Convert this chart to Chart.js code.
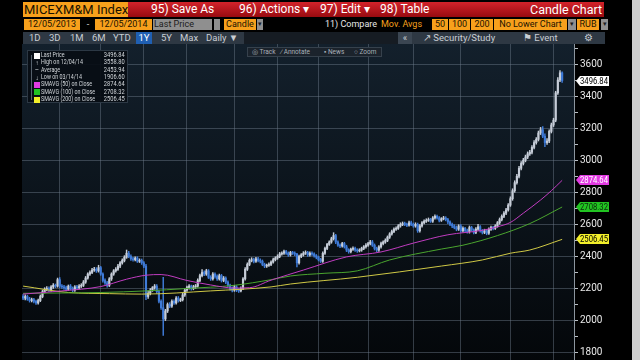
<!DOCTYPE html>
<html>
<head>
<meta charset="utf-8">
<script src="https://cdn.jsdelivr.net/npm/chart.js@4.4.1/dist/chart.umd.min.js"></script>
<style>
  html, body { margin: 0; padding: 0; background: #000; }
  body { width: 640px; height: 360px; position: relative; overflow: hidden;
         font-family: "Liberation Sans Narrow", "Roboto", sans-serif; }
  .abs { position: absolute; white-space: nowrap; box-sizing: border-box; }
  .org { background: #f7a01c; color: #1a1200; }
  .gry { background: #8f8f8f; color: #1c1c1c; }
  .r1 { top: 2px; height: 15px; line-height: 15px; }
  .r2 { top: 19px; height: 11px; line-height: 11px; font-size: 9px; text-align: center; }
  .r3 { top: 32px; height: 12px; line-height: 12px; font-size: 9.5px; color: #c9ced4; }
  .rt { color: #fff; font-size: 12px; }
  #legend { left: 27px; top: 50px; width: 101px; height: 53px; background: rgba(8,13,19,0.92);
            border: 1px solid #2c3844; font-size: 6.5px; color: #d2d6da; }
  .lr { position: absolute; left: 0; width: 99px; height: 7px; line-height: 7px; }
  .ic { position: absolute; left: 6px; top: 0.5px; width: 6px; height: 6px; text-align: center; }
  .lt { position: absolute; left: 13px; transform: scaleX(0.82); transform-origin: left center; }
  .lv { position: absolute; right: 2px; transform: scaleX(0.88); transform-origin: right center; }
  #tools { left: 247px; top: 47px; width: 135px; height: 10px; line-height: 9px; background: #1b232c;
           border: 1px solid #36414c; font-size: 6.5px; color: #a9b1b9; }
  #wrap { position: absolute; left: 22px; top: 44px; width: 610px; height: 316px; }
</style>
</head>
<body>
<!-- row 1 -->
<div class="abs r1 org" style="left:23px;width:105px;font-size:13px;padding-left:1px;">MICEXM&amp;M Index</div>
<div class="abs r1" style="left:128px;width:476px;background:linear-gradient(#d3232b,#980b10);"></div>
<div class="abs r1 rt" style="left:151px;">95) Save As</div>
<div class="abs r1 rt" style="left:239px;">96) Actions ▾</div>
<div class="abs r1 rt" style="left:320px;">97) Edit ▾</div>
<div class="abs r1 rt" style="left:380px;">98) Table</div>
<div class="abs r1 rt" style="left:530px;font-size:12.5px;">Candle Chart</div>
<div class="abs" style="left:632px;top:0;width:8px;height:360px;background:#cfcfcf;"></div>

<!-- row 2 -->
<div class="abs r2 org" style="left:24px;width:56px;">12/05/2013</div>
<div class="abs r2" style="left:83px;width:10px;color:#ddd;">-</div>
<div class="abs r2 org" style="left:95px;width:57px;">12/05/2014</div>
<div class="abs r2 gry" style="left:153px;width:59px;text-align:left;padding-left:1px;">Last Price</div>
<div class="abs r2 gry" style="left:214px;width:6px;"></div>
<div class="abs r2 org" style="left:224px;width:32px;">Candle</div>
<div class="abs r2 gry" style="left:257px;width:6px;font-size:7px;">▾</div>
<div class="abs r2" style="left:325px;color:#e8e8e8;text-align:left;">11) Compare</div>
<div class="abs r2" style="left:381px;color:#f7a01c;text-align:left;">Mov. Avgs</div>
<div class="abs r2 org" style="left:432px;width:16px;">50</div>
<div class="abs r2 org" style="left:449px;width:21px;">100</div>
<div class="abs r2 org" style="left:471px;width:22px;">200</div>
<div class="abs r2 org" style="left:494px;width:73px;">No Lower Chart</div>
<div class="abs r2 gry" style="left:568px;width:8px;font-size:7px;">▾</div>
<div class="abs r2 org" style="left:577px;width:22px;">RUB</div>
<div class="abs r2 gry" style="left:601px;width:7px;font-size:7px;">▾</div>

<!-- row 3 -->
<div class="abs r3" style="left:23px;width:221px;background:#2e3843;"></div>
<div class="abs r3" style="left:244px;width:154px;background:#161c23;"></div>
<div class="abs r3" style="left:398px;width:14px;background:#3b4652;text-align:center;">«</div>
<div class="abs r3" style="left:412px;width:193px;background:#2e3843;"></div>
<div class="abs r3" style="left:29px;">1D</div>
<div class="abs r3" style="left:49px;">3D</div>
<div class="abs r3" style="left:70px;">1M</div>
<div class="abs r3" style="left:92px;">6M</div>
<div class="abs r3" style="left:113px;">YTD</div>
<div class="abs r3" style="left:136px;width:16px;background:#1f5fb2;color:#fff;text-align:center;">1Y</div>
<div class="abs r3" style="left:161px;">5Y</div>
<div class="abs r3" style="left:180px;">Max</div>
<div class="abs r3" style="left:206px;">Daily ▼</div>
<div class="abs r3" style="left:423px;">↗ Security/Study</div>
<div class="abs r3" style="left:523px;">⚑ Event</div>
<div class="abs r3" style="left:584px;">⚙</div>

<div id="wrap"><canvas id="myChart"></canvas></div>

<div id="legend" class="abs">
  <div style="position:absolute;left:3px;top:4px;width:1px;height:45px;background:#55606b;"></div>
  <div class="lr" style="top:1px;"><span class="ic" style="background:#fff;"></span><span class="lt">Last Price</span><span class="lv">3496.84</span></div>
  <div class="lr" style="top:8px;"><span class="ic">↑</span><span class="lt">High on 12/04/14</span><span class="lv">3558.80</span></div>
  <div class="lr" style="top:15.5px;"><span class="ic">–</span><span class="lt">Average</span><span class="lv">2453.94</span></div>
  <div class="lr" style="top:23px;"><span class="ic">↓</span><span class="lt">Low on 03/14/14</span><span class="lv">1906.60</span></div>
  <div class="lr" style="top:30px;"><span class="ic" style="background:#e23be2;"></span><span class="lt">SMAVG (50) on Close</span><span class="lv">2874.64</span></div>
  <div class="lr" style="top:37.5px;"><span class="ic" style="background:#22c422;"></span><span class="lt">SMAVG (100) on Close</span><span class="lv">2708.32</span></div>
  <div class="lr" style="top:45px;"><span class="ic" style="background:#f2ee2a;"></span><span class="lt">SMAVG (200) on Close</span><span class="lv">2506.45</span></div>
</div>

<div id="tools" class="abs">
  <span style="position:absolute;left:4px;">◎ Track</span>
  <span style="position:absolute;left:33px;">∕ Annotate</span>
  <span style="position:absolute;left:76px;">▪ News</span>
  <span style="position:absolute;left:106px;">○ Zoom</span>
</div>

<script>
// daily candles, 12/05/2013 - 12/05/2014
const opens = [
  2150, 2140, 2150, 2135, 2125, 2130, 2120, 2110, 2125, 2150,
  2180, 2195, 2200, 2190, 2210, 2220, 2215, 2255, 2215, 2210,
  2205, 2195, 2215, 2200, 2190, 2210, 2205, 2215, 2220, 2240,
  2265, 2290, 2300, 2315, 2320, 2310, 2330, 2290, 2250, 2235,
  2220, 2260, 2290, 2310, 2320, 2340, 2360, 2375, 2395, 2420,
  2400, 2385, 2380, 2390, 2370, 2375, 2360, 2340, 2150, 2170,
  2190, 2205, 2215, 2180, 2120, 2080, 2010, 2060, 2100, 2090,
  2120, 2110, 2140, 2125, 2130, 2160, 2190, 2205, 2215, 2200,
  2210, 2215, 2250, 2280, 2300, 2290, 2310, 2270, 2260, 2290,
  2275, 2260, 2280, 2250, 2265, 2240, 2220, 2200, 2190, 2210,
  2190, 2185, 2200, 2260, 2320, 2350, 2375, 2380, 2370, 2385,
  2375, 2370, 2350, 2340, 2345, 2350, 2365, 2380, 2390, 2400,
  2415, 2420, 2430, 2420, 2410, 2425, 2420, 2415, 2360, 2400,
  2410, 2420, 2425, 2410, 2420, 2415, 2405, 2395, 2380, 2370,
  2420, 2450, 2475, 2490, 2510, 2530, 2490, 2470, 2465, 2480,
  2460, 2440, 2430, 2445, 2450, 2440, 2435, 2440, 2450, 2460,
  2470, 2480, 2490, 2470, 2450, 2440, 2460, 2480, 2490, 2500,
  2520, 2540, 2555, 2570, 2575, 2590, 2600, 2605, 2600, 2595,
  2610, 2600, 2590, 2600, 2560, 2590, 2610, 2620, 2625, 2630,
  2620, 2640, 2650, 2640, 2625, 2635, 2640, 2630, 2615, 2600,
  2590, 2580, 2570, 2590, 2560, 2575, 2560, 2555, 2580, 2565,
  2550, 2570, 2585, 2560, 2550, 2560, 2545, 2570, 2580, 2575,
  2590, 2610, 2630, 2650, 2670, 2690, 2720, 2760, 2810, 2860,
  2900, 2950, 2980, 3000, 3020, 3040, 3050, 3080, 3110, 3130,
  3170, 3190, 3150, 3110, 3120, 3180, 3220, 3250, 3420, 3500, 3545
];
const highs = [
  2162, 2160, 2158, 2145, 2140, 2138, 2128, 2134, 2160, 2190,
  2205, 2212, 2210, 2218, 2230, 2228, 2265, 2268, 2225, 2220,
  2215, 2222, 2225, 2210, 2218, 2220, 2225, 2230, 2250, 2275,
  2298, 2310, 2325, 2332, 2330, 2345, 2338, 2298, 2260, 2244,
  2268, 2298, 2318, 2330, 2350, 2368, 2385, 2405, 2440, 2432,
  2410, 2395, 2398, 2398, 2385, 2384, 2368, 2350, 2185, 2200,
  2212, 2225, 2225, 2190, 2130, 2270, 2070, 2110, 2112, 2130,
  2130, 2150, 2150, 2140, 2170, 2200, 2215, 2225, 2222, 2220,
  2225, 2260, 2290, 2318, 2310, 2320, 2318, 2280, 2300, 2298,
  2285, 2290, 2288, 2275, 2272, 2248, 2228, 2210, 2220, 2218,
  2200, 2210, 2268, 2330, 2360, 2385, 2392, 2390, 2395, 2394,
  2385, 2378, 2358, 2352, 2360, 2372, 2390, 2398, 2410, 2425,
  2428, 2440, 2438, 2428, 2432, 2432, 2428, 2420, 2408, 2418,
  2430, 2435, 2432, 2428, 2428, 2422, 2412, 2402, 2388, 2428,
  2458, 2482, 2498, 2520, 2548, 2538, 2498, 2478, 2488, 2488,
  2470, 2448, 2452, 2460, 2458, 2448, 2448, 2458, 2468, 2480,
  2488, 2500, 2500, 2478, 2458, 2468, 2490, 2498, 2510, 2528,
  2548, 2565, 2578, 2585, 2598, 2610, 2615, 2614, 2608, 2620,
  2620, 2608, 2610, 2608, 2598, 2618, 2628, 2635, 2640, 2638,
  2648, 2660, 2658, 2648, 2642, 2650, 2648, 2638, 2622, 2608,
  2598, 2590, 2598, 2598, 2585, 2582, 2570, 2590, 2588, 2572,
  2580, 2600, 2592, 2568, 2570, 2568, 2578, 2590, 2588, 2598,
  2618, 2640, 2660, 2680, 2700, 2730, 2772, 2822, 2872, 2912,
  2962, 2992, 3012, 3032, 3052, 3062, 3092, 3122, 3142, 3182,
  3205, 3210, 3165, 3135, 3190, 3232, 3262, 3430, 3515, 3558.8, 3552
];
const lows = [
  2130, 2128, 2126, 2115, 2116, 2110, 2100, 2102, 2118, 2142,
  2172, 2186, 2180, 2182, 2200, 2205, 2208, 2205, 2200, 2195,
  2185, 2188, 2192, 2180, 2182, 2196, 2198, 2206, 2212, 2232,
  2258, 2282, 2292, 2306, 2300, 2302, 2282, 2240, 2225, 2208,
  2212, 2250, 2282, 2302, 2312, 2330, 2352, 2366, 2388, 2392,
  2375, 2370, 2372, 2362, 2362, 2350, 2330, 2130, 2138, 2160,
  2182, 2195, 2170, 2110, 2070, 1906.6, 2000, 2050, 2080, 2082,
  2100, 2102, 2115, 2118, 2122, 2150, 2182, 2196, 2190, 2192,
  2200, 2208, 2242, 2272, 2280, 2282, 2262, 2250, 2252, 2265,
  2250, 2252, 2240, 2242, 2230, 2210, 2190, 2178, 2182, 2180,
  2175, 2178, 2192, 2252, 2312, 2342, 2366, 2360, 2362, 2365,
  2360, 2342, 2330, 2332, 2338, 2342, 2358, 2372, 2382, 2392,
  2408, 2412, 2412, 2400, 2402, 2412, 2405, 2335, 2352, 2392,
  2402, 2412, 2400, 2402, 2406, 2396, 2385, 2372, 2362, 2362,
  2412, 2442, 2468, 2482, 2502, 2480, 2462, 2455, 2458, 2452,
  2430, 2420, 2422, 2438, 2432, 2425, 2428, 2432, 2442, 2452,
  2462, 2472, 2462, 2440, 2430, 2432, 2452, 2472, 2482, 2492,
  2512, 2532, 2548, 2562, 2568, 2582, 2592, 2592, 2585, 2588,
  2592, 2582, 2582, 2550, 2552, 2582, 2602, 2612, 2618, 2612,
  2612, 2632, 2632, 2615, 2618, 2628, 2622, 2605, 2592, 2580,
  2572, 2560, 2562, 2550, 2552, 2550, 2545, 2545, 2558, 2540,
  2542, 2562, 2552, 2540, 2542, 2535, 2538, 2562, 2566, 2568,
  2582, 2600, 2622, 2642, 2660, 2682, 2712, 2750, 2800, 2850,
  2890, 2940, 2970, 2990, 3010, 3030, 3040, 3070, 3100, 3120,
  3160, 3140, 3085, 3098, 3110, 3170, 3210, 3240, 3410, 3490, 3485
];
const closes = [
  2140, 2150, 2135, 2125, 2130, 2120, 2110, 2125, 2150, 2180,
  2195, 2200, 2190, 2210, 2220, 2215, 2255, 2215, 2210, 2205,
  2195, 2215, 2200, 2190, 2210, 2205, 2215, 2220, 2240, 2265,
  2290, 2300, 2315, 2320, 2310, 2330, 2290, 2250, 2235, 2220,
  2260, 2290, 2310, 2320, 2340, 2360, 2375, 2395, 2420, 2400,
  2385, 2380, 2390, 2370, 2375, 2360, 2340, 2150, 2170, 2190,
  2205, 2215, 2180, 2120, 2080, 2010, 2060, 2100, 2090, 2120,
  2110, 2140, 2125, 2130, 2160, 2190, 2205, 2215, 2200, 2210,
  2215, 2250, 2280, 2300, 2290, 2310, 2270, 2260, 2290, 2275,
  2260, 2280, 2250, 2265, 2240, 2220, 2200, 2190, 2210, 2190,
  2185, 2200, 2260, 2320, 2350, 2375, 2380, 2370, 2385, 2375,
  2370, 2350, 2340, 2345, 2350, 2365, 2380, 2390, 2400, 2415,
  2420, 2430, 2420, 2410, 2425, 2420, 2415, 2360, 2400, 2410,
  2420, 2425, 2410, 2420, 2415, 2405, 2395, 2380, 2370, 2420,
  2450, 2475, 2490, 2510, 2530, 2490, 2470, 2465, 2480, 2460,
  2440, 2430, 2445, 2450, 2440, 2435, 2440, 2450, 2460, 2470,
  2480, 2490, 2470, 2450, 2440, 2460, 2480, 2490, 2500, 2520,
  2540, 2555, 2570, 2575, 2590, 2600, 2605, 2600, 2595, 2610,
  2600, 2590, 2600, 2560, 2590, 2610, 2620, 2625, 2630, 2620,
  2640, 2650, 2640, 2625, 2635, 2640, 2630, 2615, 2600, 2590,
  2580, 2570, 2590, 2560, 2575, 2560, 2555, 2580, 2565, 2550,
  2570, 2585, 2560, 2550, 2560, 2545, 2570, 2580, 2575, 2590,
  2610, 2630, 2650, 2670, 2690, 2720, 2760, 2810, 2860, 2900,
  2950, 2980, 3000, 3020, 3040, 3050, 3080, 3110, 3130, 3170,
  3190, 3150, 3110, 3120, 3180, 3220, 3250, 3420, 3500, 3545, 3496.84
];

// moving averages read at a few trading days (index into the candles)
const sma50Days = [0, 18, 36, 48, 57, 64, 76, 87, 98, 105, 115, 130, 150, 166, 181, 197, 213, 220, 226, 232, 240, 245, 250];
const sma50 = [2165, 2185, 2212, 2258, 2283, 2287, 2250, 2222, 2203, 2205, 2252, 2315, 2397, 2428, 2483, 2535, 2563, 2585, 2612, 2670, 2752, 2810, 2874.64];
const sma100Days = [0, 18, 36, 57, 76, 98, 115, 124, 140, 155, 170, 194, 204, 220, 235, 250];
const sma100 = [2170, 2172, 2175, 2185, 2200, 2220, 2255, 2278, 2295, 2310, 2378, 2446, 2470, 2530, 2605, 2708.32];
const sma200Days = [0, 21, 40, 55, 87, 115, 124, 155, 194, 213, 226, 235, 250];
const sma200 = [2215, 2175, 2168, 2165, 2185, 2210, 2228, 2270, 2340, 2378, 2420, 2440, 2506.45];

// first trading day of each month (Jan..Dec 2014)
const monthStarts = [17, 36, 56, 76, 98, 118, 137, 160, 181, 203, 226, 246];

const slots = 256;
const labels = Array.from({length: slots}, (_, i) => String(i));

const UP = '#c6cdd8';
const DOWN = '#3f7bd8';
const GRID = 'rgba(110,125,140,0.45)';
const FONT = '"Liberation Sans Narrow", "Roboto", sans-serif';

function sparse(days, vals) {
    const arr = new Array(slots).fill(null);
    days.forEach((d, i) => { arr[d] = vals[i]; });
    return arr;
}

const candleColors = closes.map((c, i) => c >= opens[i] ? UP : DOWN);

const bgPlugin = {
    id: 'bg',
    beforeDraw(chart) {
        const {ctx, chartArea: a} = chart;
        ctx.save();
        const g = ctx.createLinearGradient(0, a.top, 0, a.bottom);
        g.addColorStop(0, '#13202c');
        g.addColorStop(1, '#04070a');
        ctx.fillStyle = g;
        ctx.fillRect(a.left, a.top, a.right - a.left, a.bottom - a.top);
        ctx.restore();
    }
};

const tagPlugin = {
    id: 'tags',
    afterDraw(chart) {
        const {ctx, chartArea, scales} = chart;
        const tags = [
            {v: closes[closes.length - 1], bg: '#ffffff', fg: '#000000'},
            {v: sma50[sma50.length - 1], bg: '#e23be2', fg: '#ffffff'},
            {v: sma100[sma100.length - 1], bg: '#22c422', fg: '#0b2a0b'},
            {v: sma200[sma200.length - 1], bg: '#f2ee2a', fg: '#000000'}
        ];
        ctx.save();
        ctx.font = '9.5px ' + FONT;
        ctx.textBaseline = 'middle';
        tags.forEach(t => {
            const y = Math.round(scales.y.getPixelForValue(t.v));
            const x0 = chartArea.right + 2;
            const w = 33, h = 10;
            ctx.fillStyle = t.bg;
            ctx.beginPath();
            ctx.moveTo(x0, y);
            ctx.lineTo(x0 + 4, y - h / 2);
            ctx.lineTo(x0 + w, y - h / 2);
            ctx.lineTo(x0 + w, y + h / 2);
            ctx.lineTo(x0 + 4, y + h / 2);
            ctx.closePath();
            ctx.fill();
            ctx.fillStyle = t.fg;
            ctx.fillText(t.v.toFixed(2), x0 + 4, y + 0.5, w - 5);
        });
        ctx.restore();
    }
};

Chart.defaults.font.family = FONT;

const config = {
    type: 'bar',
    data: {
        labels: labels,
        datasets: [
            {
                type: 'line', label: 'SMAVG (50)', data: sparse(sma50Days, sma50),
                borderColor: '#c03cc0', borderWidth: 1, pointRadius: 0, spanGaps: true,
                cubicInterpolationMode: 'monotone', order: 0
            },
            {
                type: 'line', label: 'SMAVG (100)', data: sparse(sma100Days, sma100),
                borderColor: '#4aa52e', borderWidth: 1, pointRadius: 0, spanGaps: true,
                cubicInterpolationMode: 'monotone', order: 0
            },
            {
                type: 'line', label: 'SMAVG (200)', data: sparse(sma200Days, sma200),
                borderColor: '#cfc845', borderWidth: 1, pointRadius: 0, spanGaps: true,
                cubicInterpolationMode: 'monotone', order: 0
            },
            {
                label: 'Body', data: opens.map((o, i) => [o, closes[i]]),
                backgroundColor: candleColors, borderWidth: 0, barThickness: 1.5,
                grouped: false, order: 1
            },
            {
                label: 'Wick', data: lows.map((l, i) => [l, highs[i]]),
                backgroundColor: candleColors, borderWidth: 0, barThickness: 0.8,
                grouped: false, order: 2
            }
        ]
    },
    options: {
        responsive: true,
        maintainAspectRatio: false,
        animation: false,
        layout: { padding: 0 },
        plugins: { legend: { display: false }, tooltip: { enabled: false } },
        scales: {
            x: {
                ticks: { display: false, autoSkip: false },
                grid: {
                    offset: false, drawTicks: false,
                    color: ctx => monthStarts.includes(ctx.index) ? GRID : 'transparent'
                },
                border: { display: false },
                afterFit(s) { s.height = 0; s.paddingLeft = 0; s.paddingRight = 0; }
            },
            y: {
                position: 'right',
                min: 1754,
                max: 3725,
                ticks: {
                    stepSize: 100, includeBounds: false, color: '#e8e8e8', padding: 2,
                    font: { size: 10 },
                    callback: v => v % 200 === 0 ? String(v) : ''
                },
                grid: {
                    color: ctx => ctx.tick && ctx.tick.value % 200 === 0 ? GRID : 'transparent',
                    tickColor: '#b8bec4', tickLength: 4
                },
                border: { display: true, color: '#8c959e' },
                afterFit(s) { s.width = 58; s.paddingTop = 0; s.paddingBottom = 0; }
            }
        }
    },
    plugins: [bgPlugin, tagPlugin]
};

const myChart = new Chart(document.getElementById('myChart'), config);
</script>
</body>
</html>
